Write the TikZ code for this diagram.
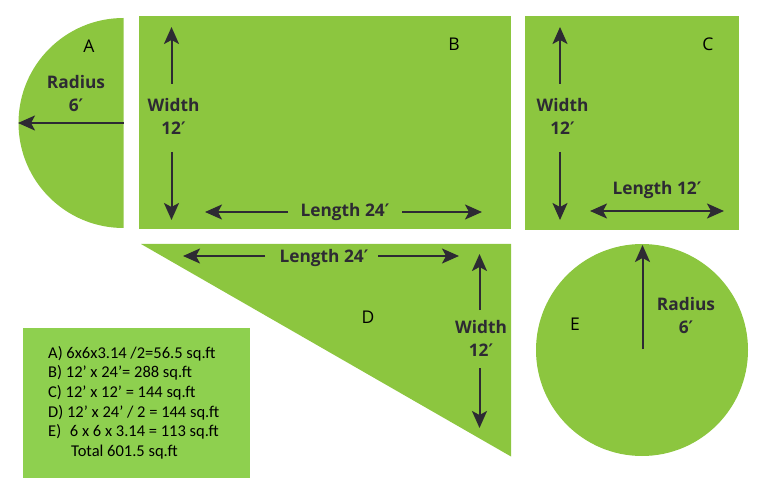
\documentclass[tikz,border=0pt]{standalone}
\usepackage{fontspec}
\setmainfont{Open Sans}
\newfontfamily\legendfont{Carlito}
\newfontfamily\primefont{DejaVu Sans}
\newcommand{\primemark}{{\primefont\bfseries ′}}
\usetikzlibrary{arrows.meta}
\definecolor{shapegreen}{HTML}{8CC63F}
\definecolor{legendgreen}{HTML}{8ED04F}
\definecolor{inkdark}{HTML}{2D2A33}
\tikzset{
  shapefill/.style={fill=shapegreen,draw=none},
  dim/.style={draw=inkdark,line width=2pt,-{Stealth[length=17pt,width=15pt,inset=4pt]}},
  dimboth/.style={draw=inkdark,line width=2pt,{Stealth[length=17pt,width=15pt,inset=4pt]}-{Stealth[length=17pt,width=15pt,inset=4pt]}},
  dimlabel/.style={font=\fontsize{17.3}{23}\selectfont\bfseries,text=inkdark,align=center,inner sep=0pt},
  letter/.style={font=\fontsize{17.5}{20}\selectfont,text=black,inner sep=0pt},
  legendline/.style={font=\legendfont\fontsize{16.5}{18}\selectfont,text=black,anchor=west,inner sep=0pt}
}
\begin{document}
\begin{tikzpicture}[x=1pt,y=-1pt]
\useasboundingbox (0,0) rectangle (768,478);
% shapes
\fill[shapefill] (123.5,18) arc[start angle=270,end angle=90,radius=105] -- cycle;
\fill[shapefill] (139,16) rectangle (511,229);
\fill[shapefill] (525,16) rectangle (739,230);
\fill[shapefill] (141,244) -- (511,244) -- (511,456.5) -- cycle;
\fill[shapefill] (642,350) circle[radius=106];
\fill[legendgreen] (23,327.5) rectangle (250,478);
% letters
\node[letter] (la) at (89,46) {A};
\node[letter] (lb) at (454,44) {B};
\node[letter] (lc) at (708,44) {C};
\node[letter] (ld) at (368,317) {D};
\node[letter] (le) at (575,324) {E};
% labels
\node[dimlabel] (ra) at (76,94) {Radius\\6\primemark};
\node[dimlabel] (wb) at (173.5,116) {Width\\12\primemark};
\node[dimlabel] (lnb) at (345,212) {Length 24\primemark};
\node[dimlabel] (wc) at (562.5,116) {Width\\12\primemark};
\node[dimlabel] (lnc) at (657,190) {Length 12\primemark};
\node[dimlabel] (lnd) at (324,258) {Length 24\primemark};
\node[dimlabel] (wd) at (481,338) {Width\\12\primemark};
\node[dimlabel] (re) at (686,316) {Radius\\6\primemark};
% coordinates
\coordinate (a0) at (123.5,123); \coordinate (a1) at (18,123);
\coordinate (b0) at (171.5,84); \coordinate (b1) at (171.5,27);
\coordinate (b2) at (171.5,152); \coordinate (b3) at (171.5,220);
\coordinate (b4) at (288,212); \coordinate (b5) at (205,212);
\coordinate (b6) at (402,212); \coordinate (b7) at (482,212);
\coordinate (c0) at (560,84); \coordinate (c1) at (560,27);
\coordinate (c2) at (560,152); \coordinate (c3) at (560,220);
\coordinate (c4) at (590,211); \coordinate (c5) at (724,211);
\coordinate (d0) at (265,256); \coordinate (d1) at (183,256);
\coordinate (d2) at (378,256); \coordinate (d3) at (459,256);
\coordinate (d4) at (479.5,310); \coordinate (d5) at (479.5,254);
\coordinate (d6) at (479.5,368); \coordinate (d7) at (479.5,428);
\coordinate (e0) at (642.5,349); \coordinate (e1) at (642.5,245);
% connectors
\draw[dim] (a0) -- (a1);
\draw[dim] (b0) -- (b1);
\draw[dim] (b2) -- (b3);
\draw[dim] (b4) -- (b5);
\draw[dim] (b6) -- (b7);
\draw[dim] (c0) -- (c1);
\draw[dim] (c2) -- (c3);
\draw[dimboth] (c4) -- (c5);
\draw[dim] (d0) -- (d1);
\draw[dim] (d2) -- (d3);
\draw[dim] (d4) -- (d5);
\draw[dim] (d6) -- (d7);
\draw[dim] (e0) -- (e1);
% legend
\node[legendline] (t1) at (48,353.5) {A) 6x6x3.14 /2=56.5 sq.ft};
\node[legendline] (t2) at (48,373) {B) 12’ x 24’= 288 sq.ft};
\node[legendline] (t3) at (48,392.5) {C) 12’ x 12’ = 144 sq.ft};
\node[legendline] (t4) at (48,412.5) {D) 12’ x 24’ / 2 = 144 sq.ft};
\node[legendline] (t5) at (48,432) {E)\hspace{5pt} 6 x 6 x 3.14 = 113 sq.ft};
\node[legendline] (t6) at (71,452) {Total 601.5 sq.ft};
\end{tikzpicture}
\end{document}
